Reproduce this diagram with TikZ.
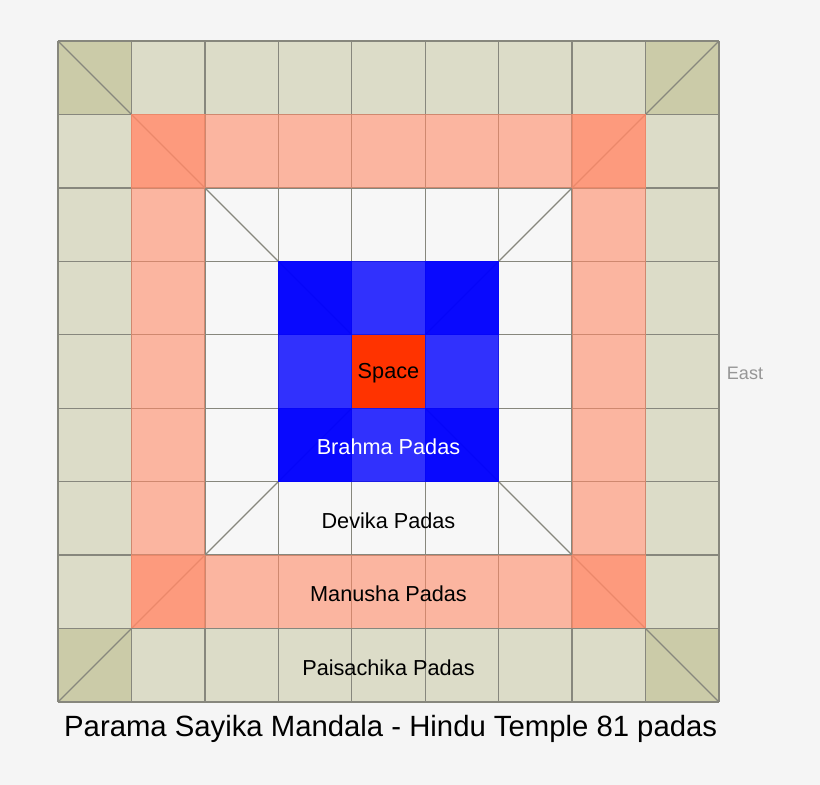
\documentclass[tikz,border=0pt]{standalone}
\usepackage{fontspec}
\setmainfont{Liberation Sans}
\definecolor{bgGray}{RGB}{245,245,245}
\definecolor{paisa}{RGB}{220,220,200}
\definecolor{paisaCorner}{RGB}{203,203,168}
\definecolor{devika}{RGB}{247,247,247}
\definecolor{manusha}{RGB}{255,137,103}
\definecolor{gridGray}{RGB}{135,135,125}
\definecolor{spaceRed}{RGB}{255,51,0}
\definecolor{eastGray}{RGB}{150,150,150}
\begin{document}
\begin{tikzpicture}[y=-1cm,
  padtext/.style={font=\fontsize{8.4}{10}\selectfont},
  manband/.style={fill=manusha,fill opacity=0.6},
  brahmaband/.style={fill=blue,fill opacity=0.8}]
\fill[bgGray] (-0.790,-0.558) rectangle (10.376,10.130);
\useasboundingbox (-0.790,-0.558) rectangle (10.376,10.130);
% paisachika and devika cells
\fill[paisa] (0,0) rectangle (9,9);
\fill[devika] (1,1) rectangle (8,8);
\foreach \x/\y in {0/0,8/0,0/8,8/8} \fill[paisaCorner] (\x,\y) rectangle +(1,1);
% grid and diagonals
\foreach \i in {0,1,...,9} \draw[gridGray,line width=0.5pt] (\i,0) -- (\i,9) (0,\i) -- (9,\i);
\draw[gridGray,line width=0.5pt] (0,0) -- (4,4) (9,0) -- (5,4) (0,9) -- (4,5) (9,9) -- (5,5);
% manusha padas
\foreach \y in {1,7} \fill[manband] (1,\y) rectangle (8,\y+1);
\foreach \x in {1,7} \fill[manband] (\x,1) rectangle (\x+1,8);
% brahma padas
\foreach \y in {3,5} \fill[brahmaband] (3,\y) rectangle (6,\y+1);
\foreach \x in {3,5} \fill[brahmaband] (\x,3) rectangle (\x+1,6);
\fill[spaceRed] (4,4) rectangle (5,5);
% texts
\node[padtext] (space) at (4.5,4.53) {Space};
\node[padtext,text=white] (brahma) at (4.5,5.53) {Brahma Padas};
\node[padtext] (devikaText) at (4.5,6.53) {Devika Padas};
\node[padtext] (manushaText) at (4.5,7.53) {Manusha Padas};
\node[padtext] (paisachika) at (4.5,8.53) {Paisachika Padas};
\node[font=\fontsize{7}{8}\selectfont,text=eastGray] (east) at (9.355,4.53) {East};
\node[font=\fontsize{11.35}{13}\selectfont] (title) at (4.53,9.37) {Parama Sayika Mandala - Hindu Temple 81 padas};
\end{tikzpicture}
\end{document}
